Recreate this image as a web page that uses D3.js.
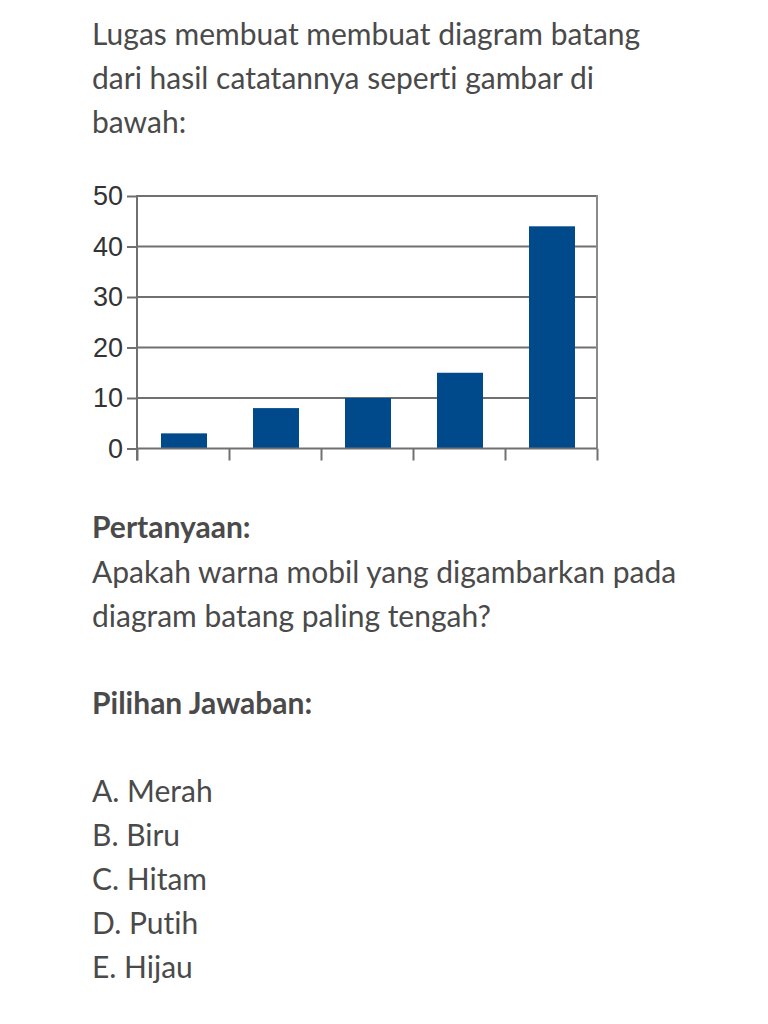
<!DOCTYPE html>
<html>
<head>
<meta charset="utf-8">
<script src="https://cdn.jsdelivr.net/npm/d3@7"></script>
<style>
  body { margin: 0; background: #fff; }
  svg text { font-family: Lato, 'Open Sans', sans-serif; fill: #4a4a4a; font-variant-ligatures: none; }
</style>
</head>
<body>
<div id="page"></div>
<script>
// chart values
var categories = ['1', '2', '3', '4', '5']
var values = [3, 8, 10, 15, 44]
var yTicks = [0, 10, 20, 30, 40, 50]

// the text around the chart
var introLines = ['Lugas membuat membuat diagram batang', 'dari hasil catatannya seperti gambar di', 'bawah:']
var questionLines = ['Apakah warna mobil yang digambarkan pada', 'diagram batang paling tengah?']
var answers = ['A. Merah', 'B. Biru', 'C. Hitam', 'D. Putih', 'E. Hijau']

var width = 768
var height = 1024

var svg = d3.select('#page')
  .append('svg')
  .attr('width', width)
  .attr('height', height)

var textX = 92
var fontSize = 30

function addLine(str, y, bold) {
  svg.append('text')
    .attr('x', textX)
    .attr('y', y)
    .style('font-size', fontSize + 'px')
    .style('font-weight', bold ? 700 : 400)
    .text(str)
}

introLines.forEach(function (l, i) { addLine(l, 45 + i * 44, false) })
addLine('Pertanyaan:', 538, true)
questionLines.forEach(function (l, i) { addLine(l, 583 + i * 44, false) })
addLine('Pilihan Jawaban:', 714, true)
answers.forEach(function (l, i) { addLine(l, 802 + i * 44, false) })

// chart
var plot = { left: 137, right: 597, top: 196, bottom: 448.5 }

var x = d3.scaleBand()
  .domain(categories)
  .range([plot.left, plot.right])
  .paddingInner(0.5)
  .paddingOuter(0.25)

var xEdges = d3.scaleLinear().domain([0, categories.length]).range([plot.left, plot.right])

var y = d3.scaleLinear().domain([0, 50]).range([plot.bottom, plot.top])

var g = svg.append('g')
var lineColor = '#707070'

// gridlines
g.selectAll('.grid')
  .data(yTicks.filter(function (d) { return d > 0 }))
  .enter()
  .append('line')
  .attr('x1', plot.left)
  .attr('x2', plot.right)
  .attr('y1', function (d) { return y(d) })
  .attr('y2', function (d) { return y(d) })
  .style('stroke', lineColor)
  .style('stroke-width', 2)

// right border
g.append('line')
  .attr('x1', plot.right).attr('x2', plot.right)
  .attr('y1', plot.top - 1).attr('y2', plot.bottom)
  .style('stroke', '#8a8a8a')
  .style('stroke-width', 2)

// bars
g.selectAll('.bar')
  .data(values)
  .enter()
  .append('rect')
  .attr('x', function (d, i) { return x(categories[i]) + 1 })
  .attr('y', function (d) { return y(d) })
  .attr('width', x.bandwidth())
  .attr('height', function (d) { return y(0) - y(d) })
  .style('fill', '#004a8c')

// y axis
var yAxis = g.append('g')
  .attr('transform', 'translate(' + plot.left + ',0)')
  .call(d3.axisLeft(y).tickValues(yTicks).tickSize(10).tickPadding(4))
yAxis.select('.domain').remove()
yAxis.selectAll('line').style('stroke', lineColor).style('stroke-width', 2)
yAxis.selectAll('text')
  .style('font-family', "'Liberation Sans', Arial, sans-serif")
  .style('font-size', '27px')
  .style('fill', '#333')
g.append('line')
  .attr('x1', plot.left).attr('x2', plot.left)
  .attr('y1', plot.top - 1).attr('y2', plot.bottom + 12)
  .style('stroke', lineColor)
  .style('stroke-width', 2)

// x axis, ticks at the band edges
var xAxis = g.append('g')
  .attr('transform', 'translate(0,' + plot.bottom + ')')
  .call(d3.axisBottom(xEdges).ticks(categories.length).tickSize(12).tickFormat(''))
xAxis.select('.domain').attr('d', 'M' + plot.left + ',0H' + plot.right)
  .style('stroke', lineColor).style('stroke-width', 2)
xAxis.selectAll('line').style('stroke', lineColor).style('stroke-width', 2)
</script>
</body>
</html>
